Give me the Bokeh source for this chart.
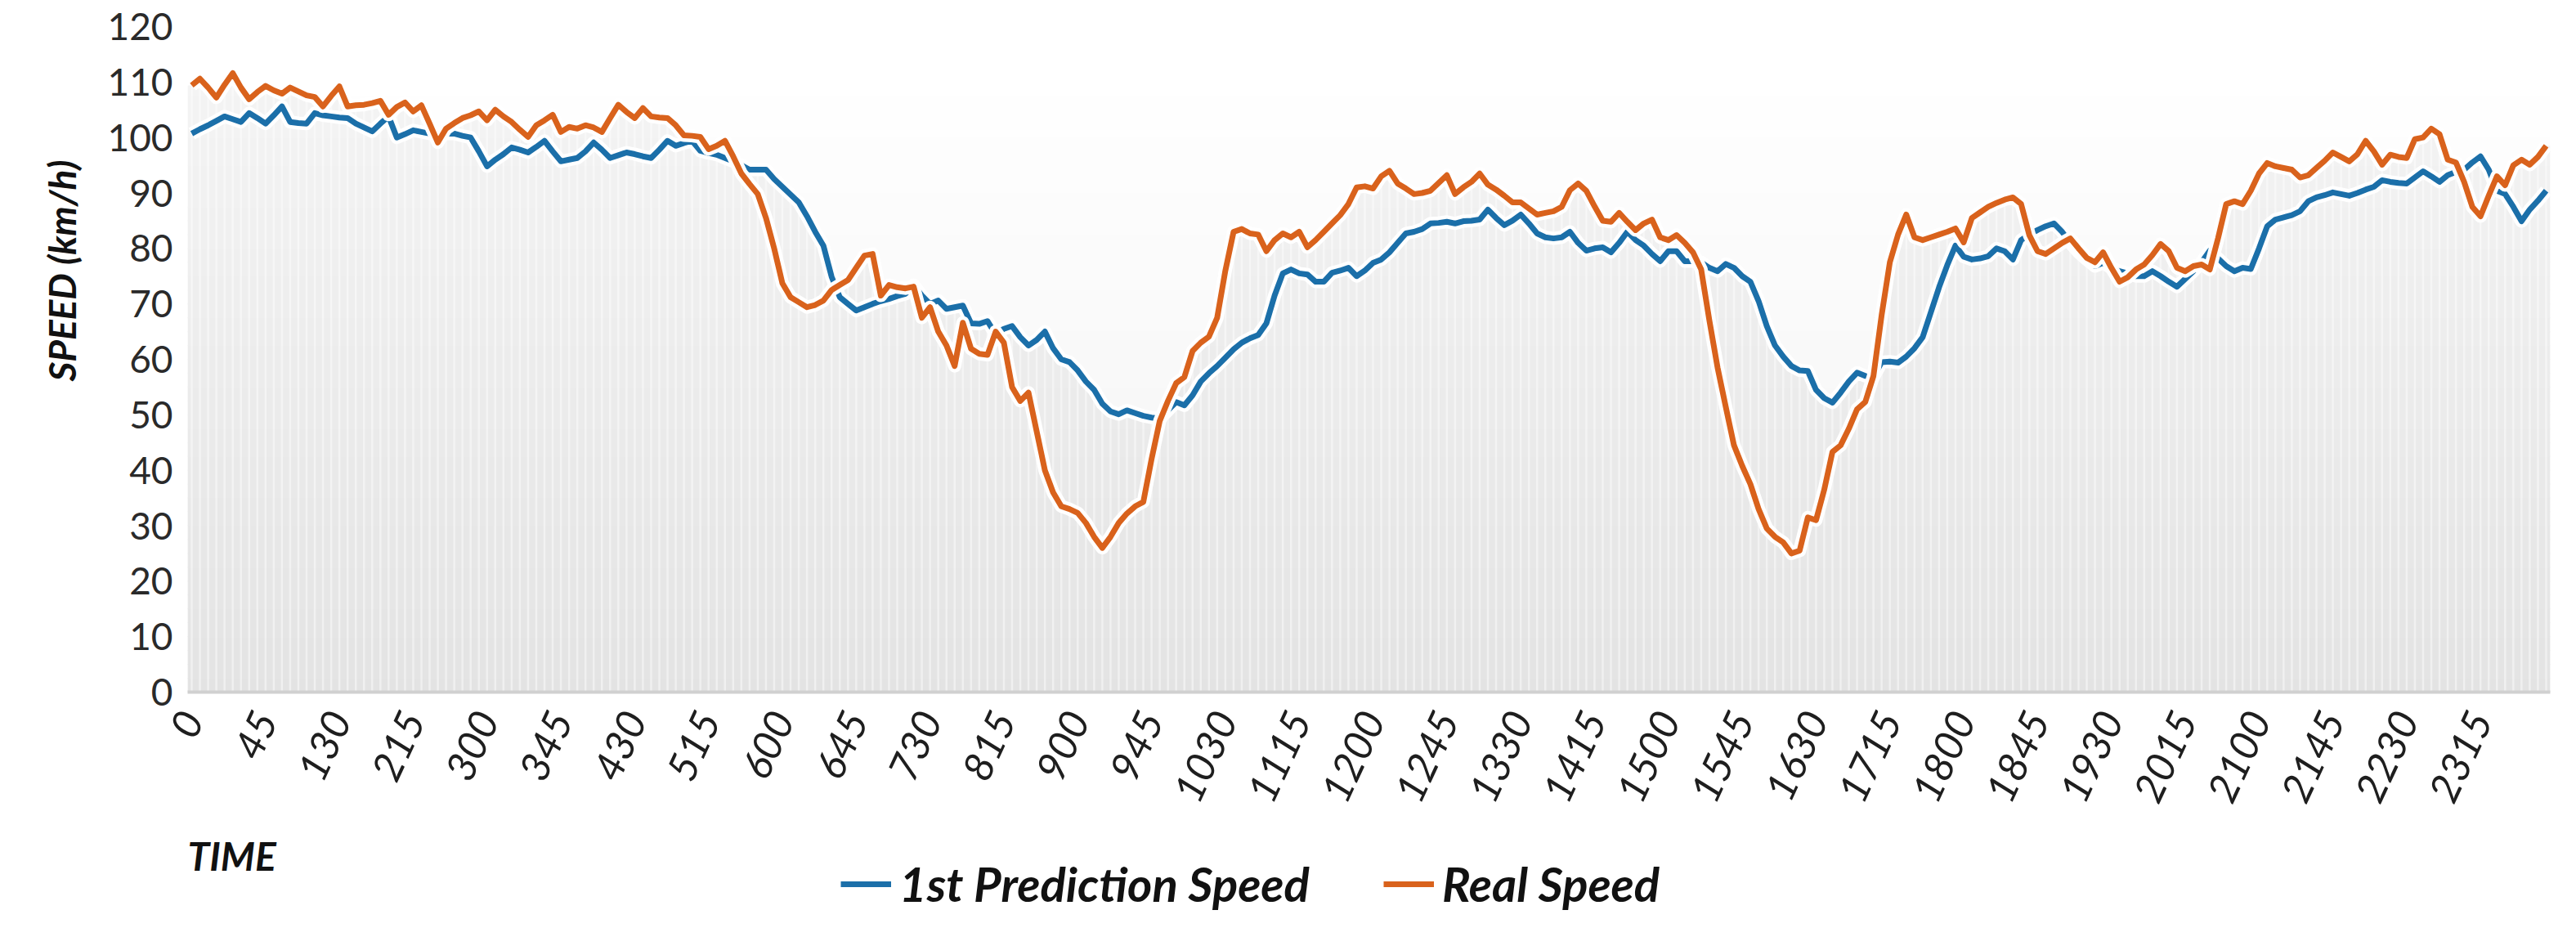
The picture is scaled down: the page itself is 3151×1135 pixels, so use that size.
import math
import numpy as np
from bokeh.plotting import figure
from bokeh.layouts import column
from bokeh.models import Range1d, FixedTicker, Title, Legend, LegendItem, Label
from bokeh.embed import file_html
from bokeh.resources import INLINE

tick_labels = ["0", "45", "130", "215", "300", "345", "430", "515", "600", "645",
               "730", "815", "900", "945", "1030", "1115", "1200", "1245", "1330",
               "1415", "1500", "1545", "1630", "1715", "1800", "1845", "1930",
               "2015", "2100", "2145", "2230", "2315"]

real_speed = [
    109.4, 110.6, 109.0, 107.2, 109.5, 111.6, 109.0, 106.9, 108.2, 109.3, 108.5, 107.9,
    109.0, 108.3, 107.6, 107.3, 105.6, 107.5, 109.2, 105.6, 105.8, 105.9, 106.2, 106.6,
    104.1, 105.5, 106.3, 104.7, 105.8, 102.5, 99.1, 101.6, 102.6, 103.5, 104.0, 104.7,
    103.1, 105.0, 103.8, 102.8, 101.4, 100.1, 102.2, 103.1, 104.1, 101.0, 101.9, 101.6,
    102.2, 101.8, 101.0, 103.5, 105.9, 104.6, 103.5, 105.3, 103.8, 103.6, 103.5, 102.2,
    100.4, 100.3, 100.1, 97.9, 98.5, 99.4, 96.6, 93.5, 91.6, 89.8, 85.5, 80.0,
    73.7, 71.2, 70.3, 69.4, 69.8, 70.6, 72.5, 73.4, 74.3, 76.5, 78.7, 79.0,
    71.5, 73.4, 73.0, 72.8, 73.1, 67.5, 69.4, 65.0, 62.5, 58.8, 66.6, 61.9,
    61.0, 60.8, 65.0, 63.0, 55.0, 52.5, 54.0, 47.0, 40.0, 36.0, 33.5, 33.0,
    32.3, 30.5, 28.0, 26.0, 28.0, 30.5, 32.2, 33.5, 34.3, 42.0, 48.9, 52.5,
    55.7, 56.8, 61.5, 63.0, 64.1, 67.5, 76.0, 83.0, 83.5, 82.7, 82.5, 79.5,
    81.5, 82.7, 82.0, 83.0, 80.2, 81.5, 83.0, 84.5, 86.0, 88.0, 91.0, 91.2,
    90.8, 93.0, 94.0, 91.7, 90.8, 89.8, 90.0, 90.4, 91.8, 93.2, 89.8, 91.0,
    92.0, 93.5, 91.5, 90.6, 89.5, 88.3, 88.3, 87.2, 86.1, 86.4, 86.7, 87.5,
    90.5, 91.7, 90.4, 87.6, 85.0, 84.8, 86.4, 84.8, 83.3, 84.5, 85.2, 82.0,
    81.5, 82.4, 81.0, 79.3, 76.2, 67.0, 58.5, 51.4, 44.5, 40.8, 37.5, 33.0,
    29.5, 28.0, 27.0, 25.0, 25.5, 31.5, 31.0, 36.5, 43.3, 44.5, 47.5, 51.0,
    52.3, 57.0, 68.0, 77.5, 82.5, 86.1, 82.0, 81.5, 82.0, 82.5, 83.0, 83.6,
    81.1, 85.5, 86.5, 87.5, 88.2, 88.8, 89.2, 88.0, 82.4, 79.5, 79.0, 80.0,
    81.0, 81.8, 80.0, 78.3, 77.5, 79.3, 76.5, 74.0, 74.8, 76.2, 77.1, 78.8,
    80.8, 79.5, 76.5, 75.9, 76.8, 77.1, 76.2, 81.8, 88.0, 88.5, 88.0, 90.4,
    93.5, 95.4, 94.8, 94.5, 94.2, 92.8, 93.2, 94.5, 95.8, 97.3, 96.5, 95.7,
    97.0, 99.4, 97.5, 95.1, 96.9, 96.5, 96.3, 99.7, 100.0, 101.6, 100.6, 96.0,
    95.5, 92.0, 87.5, 85.8, 89.5, 93.0, 91.4, 95.0, 96.0, 95.1, 96.5, 98.5,
]

pred_speed = [
    100.7, 101.5, 102.2, 103.0, 103.8, 103.3, 102.8, 104.4, 103.5, 102.5, 104.0, 105.6,
    102.8, 102.6, 102.5, 104.4, 104.0, 103.8, 103.6, 103.5, 102.5, 101.8, 101.1, 102.5,
    103.8, 100.0, 100.6, 101.3, 101.0, 100.7, 100.7, 100.7, 100.7, 100.3, 100.0, 97.5,
    94.8, 96.0, 97.0, 98.2, 97.8, 97.3, 98.3, 99.4, 97.5, 95.7, 96.0, 96.3,
    97.5, 99.1, 97.8, 96.3, 96.8, 97.3, 97.0, 96.6, 96.3, 97.8, 99.4, 98.5,
    99.0, 99.4, 97.6, 97.2, 96.9, 96.3, 95.7, 95.0, 94.2, 94.2, 94.2, 92.5,
    91.1, 89.7, 88.3, 85.8, 83.0, 80.5, 74.9, 71.2, 70.0, 68.8, 69.4, 70.0,
    70.5, 70.9, 71.4, 71.8, 73.4, 71.5, 70.0, 70.6, 69.1, 69.4, 69.7, 66.5,
    66.4, 66.9, 64.5, 65.5, 66.0, 64.0, 62.5, 63.5, 65.0, 62.0, 60.0, 59.5,
    58.0, 56.0, 54.5, 52.0, 50.6, 50.1, 50.8, 50.3, 49.8, 49.5, 49.3, 50.8,
    52.3, 51.7, 53.5, 56.0, 57.5, 58.8, 60.3, 61.8, 63.0, 63.8, 64.4, 66.5,
    71.5, 75.5, 76.2, 75.5, 75.3, 74.0, 74.0, 75.6, 76.0, 76.5, 75.0, 76.0,
    77.4, 78.0, 79.3, 81.0, 82.7, 83.0, 83.5, 84.5, 84.6, 84.8, 84.5, 84.9,
    85.0, 85.2, 87.0, 85.5, 84.2, 85.0, 86.1, 84.5, 82.7, 82.0, 81.8, 82.0,
    83.0, 81.0, 79.6, 80.0, 80.2, 79.3, 81.0, 83.0, 81.5, 80.5, 79.0, 77.7,
    79.5, 79.5, 77.7, 77.7, 77.5, 76.5, 75.9, 77.2, 76.5, 75.0, 74.0, 70.5,
    66.0, 62.5, 60.5, 58.8, 58.0, 57.9, 54.5, 53.0, 52.2, 54.0, 56.0, 57.6,
    57.0, 56.8, 59.5, 59.6, 59.4, 60.5, 62.0, 64.0, 68.5, 73.0, 77.0, 80.5,
    78.5, 78.0, 78.2, 78.6, 80.0, 79.5, 78.0, 81.5, 82.5, 83.3, 84.0, 84.5,
    83.0, 81.0, 79.3, 78.0, 76.8, 77.4, 76.5, 75.9, 75.5, 75.0, 75.0, 75.9,
    75.0, 74.0, 73.1, 74.5, 75.9, 77.5, 79.6, 78.2, 76.8, 75.9, 76.5, 76.3,
    80.0, 84.0, 85.2, 85.6, 86.0, 86.7, 88.5, 89.2, 89.6, 90.1, 89.8, 89.5,
    90.0, 90.6, 91.1, 92.3, 92.0, 91.8, 91.7, 92.8, 93.9, 93.0, 92.0, 93.2,
    93.8, 94.2, 95.5, 96.6, 94.2, 90.4, 89.8, 87.5, 84.9, 87.0, 88.6, 90.4,
]

BLUE = "#1b6fa9"
ORANGE = "#d9621c"
FONT = "Lato"
W = 3135
H_MAIN = 1011
H_LEG = 1119 - H_MAIN
FRAME_W = W - 229 - 16

n = len(real_speed)
x = np.arange(n)
real = np.array(real_speed, dtype=float)
pred = np.array(pred_speed, dtype=float)
top = np.maximum(real, pred)
xe = np.concatenate([[-0.5], x, [n - 0.5]])
te = np.concatenate([[top[0]], top, [top[-1]]])

p = figure(width=W, height=H_MAIN, output_backend="svg", toolbar_location=None,
           x_range=Range1d(-0.5, n - 0.5), y_range=Range1d(0, 120),
           min_border_left=229, min_border_right=16, min_border_top=32,
           min_border_bottom=165)
p.outline_line_color = None
p.grid.visible = False
p.background_fill_color = "white"


def gray(level):
    g = int(round(level))
    return "#%02x%02x%02x" % (g, g, g)


# plot-area background gradient (white at top)
nb = 48
edges = np.linspace(0, 120, nb + 1)
mids = (edges[:-1] + edges[1:]) / 2
sky_cols = [gray(0xf2 + (0xff - 0xf2) * min(m / 112.0, 1.0)) for m in mids]
p.quad(left=-0.5, right=n - 0.5, bottom=edges[:-1], top=edges[1:] + 0.1,
       fill_color=sky_cols, line_color=None)

# gray gradient area below the upper of the two curves
for k in range(nb):
    lo, hi = edges[k], edges[k + 1]
    col = gray(0xe3 + (0xf4 - 0xe3) * min(mids[k] / 110.0, 1.0))
    y1 = np.where(te > lo, lo - 0.08, lo)
    y2 = np.clip(te, lo, hi + 0.08)
    y2 = np.minimum(y2, te)
    y2 = np.maximum(y2, y1)
    p.varea(x=xe, y1=y1, y2=y2, fill_color=col)

# fine vertical stripes
p.segment(x0=x, y0=0, x1=x, y1=top, line_color="white", line_alpha=0.45, line_width=2.5)

# lines with white glow
p.line(x, pred, line_color="white", line_width=16, line_join="round")
p.line(x, pred, line_color=BLUE, line_width=7, line_join="round")
p.line(x, real, line_color="white", line_width=16, line_join="round")
p.line(x, real, line_color=ORANGE, line_width=7, line_join="round")

# axes
p.xaxis.ticker = FixedTicker(ticks=list(range(0, n, 9)))
p.xaxis.major_label_overrides = {i * 9: lab for i, lab in enumerate(tick_labels)}
p.xaxis.major_label_orientation = math.radians(65)
p.xaxis.major_label_text_font = FONT
p.xaxis.major_label_text_font_size = "50px"
p.xaxis.major_label_text_font_style = "italic"
p.xaxis.major_label_text_color = "#1e1e1e"
p.xaxis.major_label_standoff = 20
p.xaxis.major_tick_line_color = None
p.xaxis.minor_tick_line_color = None
p.xaxis.axis_line_color = "#d0d0d0"
p.xaxis.axis_line_width = 4

p.yaxis.ticker = FixedTicker(ticks=list(range(0, 121, 10)))
p.yaxis.major_label_text_font = FONT
p.yaxis.major_label_text_font_size = "46px"
p.yaxis.major_label_text_color = "#2a2a2a"
p.yaxis.major_label_standoff = 12
p.yaxis.axis_line_color = None
p.yaxis.major_tick_line_color = None
p.yaxis.minor_tick_line_color = None

t_speed = Title(text="SPEED (km/h)", align="left", offset=380, text_font=FONT,
                text_font_style="bold italic", text_font_size="46px",
                text_color="#111111", standoff=52)
p.add_layout(t_speed, "left")

# strip under the chart: x-axis title and legend
q = figure(width=W, height=H_LEG, output_backend="svg", toolbar_location=None,
           x_range=Range1d(0, FRAME_W), y_range=Range1d(0, H_LEG),
           min_border=0, min_border_left=0, min_border_right=0,
           min_border_top=0, min_border_bottom=0)
q.axis.visible = False
q.grid.visible = False
q.outline_line_color = None
q.add_layout(Label(x=0, y=H_LEG - 35, text="TIME", text_font=FONT,
                   text_font_style="bold italic", text_font_size="48px",
                   text_align="left", text_baseline="middle", text_color="#111111"))
lb = q.line([float("nan")], [float("nan")], line_color=BLUE, line_width=7)
lo_ = q.line([float("nan")], [float("nan")], line_color=ORANGE, line_width=7)
legend = Legend(items=[LegendItem(label="1st Prediction Speed", renderers=[lb]),
                       LegendItem(label="Real Speed", renderers=[lo_])],
                orientation="horizontal", location=(799, 4))
legend.background_fill_alpha = 0
legend.border_line_color = None
legend.label_text_font = FONT
legend.label_text_font_style = "bold italic"
legend.label_text_font_size = "58px"
legend.label_text_color = "#111111"
legend.glyph_width = 62
legend.glyph_height = 40
legend.label_standoff = 10
legend.spacing = 90
legend.padding = 0
legend.margin = 0
q.add_layout(legend)

layout = column(p, q, spacing=0)
open("out.html", "w").write(file_html(layout, INLINE))
